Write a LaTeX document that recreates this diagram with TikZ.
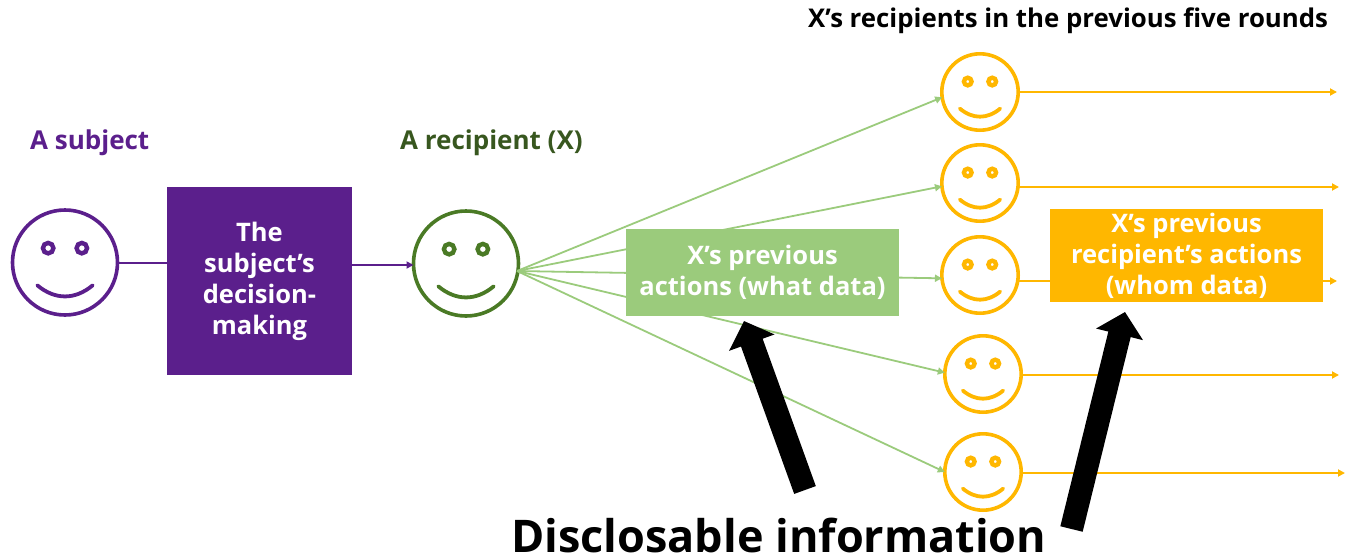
\documentclass[tikz,border=0pt]{standalone}
\usepackage{fontspec}
\setmainfont{Open Sans}
\usetikzlibrary{arrows.meta}
\definecolor{purp}{HTML}{5B1F8C}
\definecolor{dgreen}{HTML}{38571F}
\definecolor{fgreen}{HTML}{4A7A25}
\definecolor{lgreen}{HTML}{9BCB7C}
\definecolor{yel}{HTML}{FFB700}
\newcommand{\facepic}[5]{% name, x, y, radius, colour
  \node[facecirc,draw=#5,minimum size=#4*2pt,line width=3.6pt] (#1) at (#2,#3) {};
  \begin{scope}[shift={(#2,#3)},scale=#4/53,draw=#5,line width=3.8pt,line cap=round]
    \draw[line width=4.4pt] (-17,-14.5) circle (5.3);
    \draw[line width=4.4pt] (17,-14.5) circle (5.3);
    \draw (-28,23) .. controls (-10,38) and (10,38) .. (28,23);
  \end{scope}}
\tikzset{
  facecirc/.style={circle,inner sep=0pt,outer sep=0pt,fill=white},
  lbl/.style={font=\bfseries\fontsize{#1}{#1}\selectfont,inner sep=0pt,anchor=base west},
  boxnode/.style={inner sep=0pt,outer sep=0pt,text=white,align=center,font=\bfseries\fontsize{25.5}{31}\selectfont},
  glink/.style={draw=lgreen,line width=1.8pt,-{Triangle[width=7pt,length=7pt]}},
  ylink/.style={draw=yel,line width=1.8pt,-{Triangle[width=7pt,length=7pt]}},
  plink/.style={draw=purp,line width=1.8pt},
  bigarrow/.style={line width=23pt,draw=black,-{Triangle[width=47pt,length=23pt]}}
}
\begin{document}
\begin{tikzpicture}[x=1pt,y=-1pt]
\useasboundingbox (0,0) rectangle (1350,557);
\facepic{s}{65}{262.5}{52.5}{purp}
\facepic{r}{466}{263.5}{52.5}{fgreen}
\facepic{y1}{980}{92}{38.2}{yel}
\facepic{y2}{980}{183}{38.2}{yel}
\facepic{y3}{980}{275}{38.2}{yel}
\facepic{y4}{983}{374}{38.2}{yel}
\facepic{y5}{983}{472}{38.2}{yel}
\coordinate (hub) at (517,271);
\coordinate (e1) at (1337,92);
\coordinate (e2) at (1339,187);
\coordinate (e3) at (1337,281);
\coordinate (e4) at (1339,375);
\coordinate (e5) at (1345,473);
\foreach \i in {1,...,5}{
  \draw[ylink] (y\i.east |- e\i) -- (e\i);
}
\draw[glink] (hub) -- (y1.188);
\draw[glink] (hub) -- (y2.185);
\draw[glink] (hub) -- (y3.185);
\draw[glink] (hub) -- (y4.178);
\draw[glink] (hub) -- (y5.180);
\node[boxnode,fill=purp,minimum width=185pt,minimum height=188pt] (dm) at (259.5,281) {The\\subject’s\\decision-\\making};
\node[boxnode,fill=lgreen,minimum width=273pt,minimum height=87pt] (what) at (762.5,272.5) {X’s previous\\actions (what data)};
\node[boxnode,fill=yel,minimum width=273pt,minimum height=93pt] (whom) at (1186.5,255.5) {X’s previous\\recipient’s actions\\(whom data)};
\draw[plink] (s.east) ++(0,0.5) -- (dm.west |- 0,263);
\draw[plink,-{Triangle[width=7pt,length=7pt]}] (dm.east |- r.west) ++(0,1.5) -- (r.west |- 0,265);
\node[lbl=26,text=purp] (a1) at (30,149) {A subject};
\node[lbl=26,text=dgreen] (a2) at (400,149) {A recipient (X)};
\node[lbl=25.8,text=black] (a3) at (808,27) {X’s recipients in the previous five rounds};
\node[lbl=45,text=black] (a4) at (511,552) {Disclosable information};
\coordinate (t1) at (805,490);
\coordinate (t2) at (1071.5,529);
\coordinate (h1) at (744,321);
\coordinate (h2) at (1125,312);
\draw[bigarrow] (t1) -- (h1);
\draw[bigarrow] (t2) -- (h2);
\end{tikzpicture}
\end{document}
